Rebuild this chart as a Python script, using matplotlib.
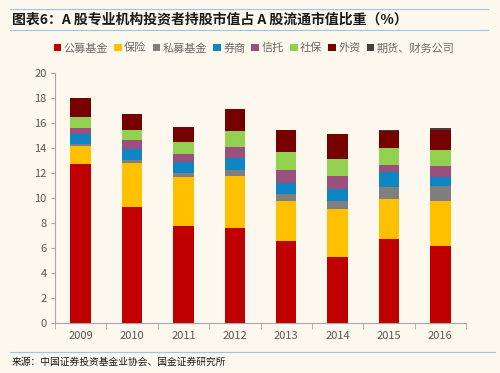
import matplotlib.pyplot as plt
import numpy as np
from matplotlib.lines import Line2D

plt.rcParams['font.family'] = ['Noto Sans CJK SC', 'DejaVu Sans']

years = ['2009', '2010', '2011', '2012', '2013', '2014', '2015', '2016']
series = ['公募基金', '保险', '私募基金', '券商', '信托', '社保', '外资', '期货、财务公司']
gongmu = [12.7, 9.3, 7.8, 7.6, 6.6, 5.3, 6.7, 6.2]
baoxian = [1.5, 3.5, 3.9, 4.2, 3.2, 3.8, 3.2, 3.6]
simu = [0.1, 0.25, 0.3, 0.45, 0.5, 0.7, 1.0, 1.2]
quanshang = [0.8, 0.9, 0.9, 0.95, 0.9, 0.9, 1.15, 0.65]
xintuo = [0.5, 0.7, 0.65, 0.9, 1.05, 1.1, 0.6, 0.95]
shebao = [0.9, 0.8, 0.95, 1.3, 1.4, 1.3, 1.35, 1.25]
waizi = [1.5, 1.3, 1.15, 1.7, 1.8, 2.0, 1.4, 1.6]
qihuo = [0.0, 0.0, 0.0, 0.03, 0.0, 0.0, 0.03, 0.17]

data = [gongmu, baoxian, simu, quanshang, xintuo, shebao, waizi, qihuo]
colors = ['#C00000', '#FFC000', '#7F7F7F', '#0E86C4', '#9B4F7D', '#92D050', '#760000', '#404040']

bg = '#FDF8EE'
fig = plt.figure(figsize=(5, 3.73), dpi=100, facecolor=bg)
ax = fig.add_axes([55/500, 1 - 323/373, 411/500, 250/373], facecolor=bg)

x = np.arange(len(years))
bottom = np.zeros(len(years))
for vals, name, c in zip(data, series, colors):
    ax.bar(x, vals, 0.4, bottom=bottom, color=c, label=name)
    bottom += np.array(vals)

ax.set_xlim(-0.5, len(years) - 0.5)
ax.set_ylim(0, 20)
ax.set_yticks(range(0, 21, 2))
ax.set_xticks(x)
ax.set_xticklabels(years)
ax.set_xticks(np.arange(-0.5, len(years), 1), minor=True)
ax.tick_params(axis='x', which='major', length=0, pad=6, labelsize=8, labelcolor='#595959')
ax.tick_params(axis='x', which='minor', length=4, color='#A6A6A6', direction='out')
ax.tick_params(axis='y', length=3, color='#A6A6A6', labelsize=8, labelcolor='#595959', pad=3)
for s in ['top', 'right']:
    ax.spines[s].set_visible(False)
ax.spines['left'].set_color('#A6A6A6')
ax.spines['bottom'].set_color('#A6A6A6')

fig.legend(loc='center', bbox_to_anchor=(0.508, 1 - 48/373), ncol=8, frameon=False,
           fontsize=8, handlelength=0.7, handleheight=0.7, handletextpad=0.2,
           columnspacing=0.55, labelcolor='#6b6b6b')

# header and footer
line_c = '#9DC3E6'
fig.add_artist(Line2D([10/500, 488/500], [1 - 9/373, 1 - 9/373], color=line_c, lw=0.8))
fig.add_artist(Line2D([10/500, 488/500], [1 - 30/373, 1 - 30/373], color=line_c, lw=0.8))
fig.add_artist(Line2D([10/500, 495/500], [1 - 352/373, 1 - 352/373], color=line_c, lw=0.8))
fig.text(12/500, 1 - 20/373, '图表6：A 股专业机构投资者持股市值占 A 股流通市值比重（%）',
         fontsize=10, fontweight='bold', color='#1a1a1a', va='center', ha='left')
fig.text(12/500, 1 - 362/373, '来源：中国证券投资基金业协会、国金证券研究所',
         fontsize=7, color='#1a1a1a', va='center', ha='left')

fig.savefig('out.png', dpi=100, facecolor=bg)
